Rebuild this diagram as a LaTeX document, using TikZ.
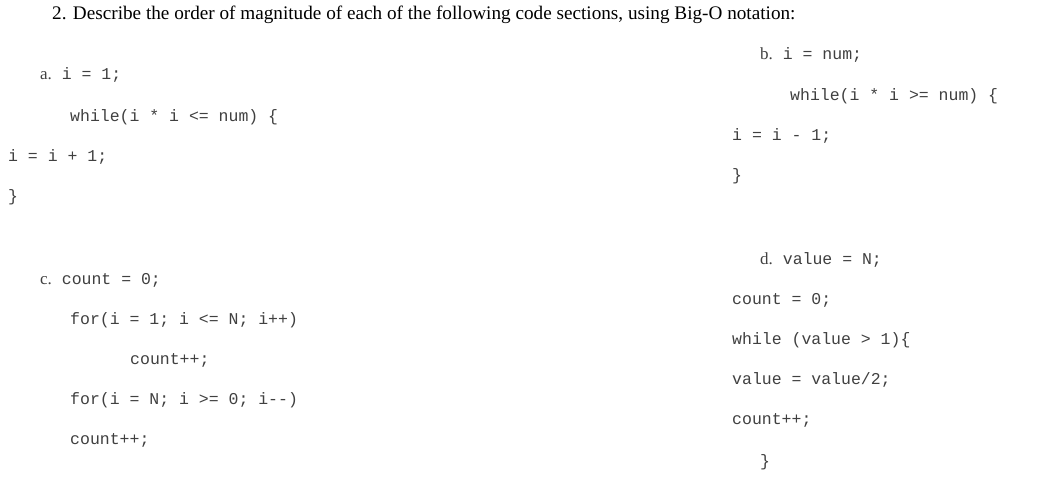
\documentclass[tikz,border=0pt]{standalone}
\usepackage{fontspec}
\setmainfont{Liberation Serif}
\setmonofont{Liberation Mono}
\begin{document}
\begin{tikzpicture}[x=1pt,y=-1pt,
  c/.style={anchor=west,inner sep=0pt,text=black!75,font=\ttfamily\fontsize{16.5}{16.5}\selectfont},
  t/.style={anchor=west,inner sep=0pt,font=\fontsize{19.2}{19.2}\selectfont}]
\useasboundingbox[fill=white] (0,0) rectangle (1060,492);
\newcommand{\lab}[1]{{\rmfamily\fontsize{17}{17}\selectfont #1}}
\node[t] (title) at (52,15) {2. Describe the order of magnitude of each of the following code sections, using Big-O notation:};
\node[c] (a1) at (40,75) {\lab{a.} i = 1;};
\node[c] (a2) at (70,117) {while(i * i <= num) \{};
\node[c] (a3) at (8,157) {i = i + 1;};
\node[c] (a4) at (8,197) {\}};
\node[c] (c1) at (40,280) {\lab{c.} count = 0;};
\node[c] (c2) at (70,320) {for(i = 1; i <= N; i++)};
\node[c] (c3) at (130,360) {count++;};
\node[c] (c4) at (70,400) {for(i = N; i >= 0; i-{}-)};
\node[c] (c5) at (70,440) {count++;};
\node[c] (b1) at (760,55) {\lab{b.} i = num;};
\node[c] (b2) at (790,96) {while(i * i >= num) \{};
\node[c] (b3) at (732,136) {i = i - 1;};
\node[c] (b4) at (732,176) {\}};
\node[c] (d1) at (760,260) {\lab{d.} value = N;};
\node[c] (d2) at (732,300) {count = 0;};
\node[c] (d3) at (732,340) {while (value > 1)\{};
\node[c] (d4) at (732,380) {value = value/2;};
\node[c] (d5) at (732,420) {count++;};
\node[c] (d6) at (760,462) {\}};
\end{tikzpicture}
\end{document}
